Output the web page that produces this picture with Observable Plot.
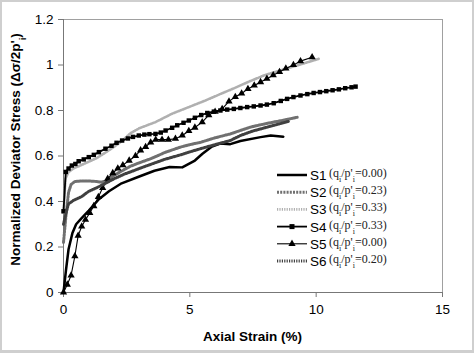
<!DOCTYPE html>
<html><head><meta charset="utf-8">
<script src="https://cdn.jsdelivr.net/npm/d3@7"></script>
<script src="https://cdn.jsdelivr.net/npm/@observablehq/plot@0.6"></script>
<style>
body{margin:0;background:#fff;}
#wrap{position:relative;width:474px;height:353px;overflow:hidden;background:#fff;}
#border{position:absolute;left:0;top:0;width:474px;height:353px;box-sizing:border-box;border:2px solid #cfcfcf;border-bottom-width:3px;pointer-events:none;}
#legend{position:absolute;left:270px;top:162px;}
</style></head><body><div id="wrap"></div>
<script>
// ---- data ----
const seriesNames = ["S1","S2","S3","S4","S5","S6"];
const ratioLabels = ["0.00","0.23","0.33","0.33","0.00","0.20"];
const xTicks = [0,5,10,15];
const yTicks = [0,0.2,0.4,0.6,0.8,1,1.2];
const xTitle = "Axial Strain (%)";

const S1 = [[0,0],[0.1,0.1],[0.2,0.19],[0.35,0.26],[0.5,0.3],[0.7,0.325],[1.0,0.36],[1.4,0.41],[1.8,0.445],[2.3,0.48],[3.0,0.51],[3.6,0.535],[4.2,0.552],[4.7,0.55],[5.2,0.58],[5.5,0.61],[5.85,0.64],[6.2,0.655],[6.6,0.652],[7.0,0.666],[7.8,0.683],[8.2,0.69],[8.7,0.685]];
const S2 = [[0,0.22],[0.1,0.34],[0.2,0.44],[0.3,0.475],[0.45,0.488],[0.7,0.49],[1.0,0.49],[1.3,0.488],[1.5,0.485],[1.7,0.49],[2.0,0.515],[2.4,0.54],[2.65,0.555],[3.0,0.57],[3.5,0.59],[4.0,0.615],[4.63,0.639],[5.0,0.65],[5.42,0.66],[6.0,0.68],[6.6,0.697],[7.0,0.712],[7.4,0.727],[8.0,0.742],[8.6,0.755],[9.25,0.77]];
const S3 = [[0,0.35],[0.08,0.5],[0.2,0.53],[0.4,0.545],[0.7,0.56],[1.0,0.575],[1.3,0.59],[1.66,0.615],[2.0,0.64],[2.3,0.665],[2.65,0.7],[3.0,0.722],[3.64,0.749],[4.3,0.786],[4.96,0.815],[5.62,0.844],[6.2,0.872],[6.8,0.9],[7.3,0.925],[7.93,0.954],[8.6,0.977],[9.25,0.998],[10.1,1.027]];
const S4 = [[0,0.357],[0.09,0.53],[0.2,0.545],[0.33,0.558],[0.47,0.565],[0.6,0.577],[0.8,0.585],[1.0,0.595],[1.2,0.605],[1.4,0.617],[1.66,0.632],[1.9,0.645],[2.1,0.658],[2.32,0.668],[2.55,0.677],[2.75,0.684],[2.98,0.69],[3.2,0.694],[3.4,0.696],[3.64,0.697],[3.85,0.703],[4.04,0.712],[4.3,0.724],[4.5,0.735],[4.75,0.746],[4.96,0.756],[5.2,0.768],[5.45,0.78],[5.69,0.789],[5.95,0.795],[6.21,0.8],[6.48,0.804],[6.74,0.807],[7.0,0.811],[7.27,0.815],[7.53,0.818],[7.8,0.822],[8.05,0.826],[8.32,0.832],[8.6,0.842],[8.85,0.851],[9.1,0.859],[9.38,0.866],[9.65,0.872],[9.9,0.877],[10.15,0.881],[10.4,0.885],[10.65,0.889],[10.9,0.893],[11.15,0.898],[11.4,0.902],[11.56,0.905]];
const S5 = [[0,0],[0.15,0.035],[0.3,0.075],[0.45,0.16],[0.58,0.25],[0.72,0.29],[0.87,0.32],[1.04,0.35],[1.2,0.38],[1.38,0.42],[1.55,0.46],[1.75,0.5],[1.95,0.525],[2.15,0.545],[2.35,0.56],[2.6,0.58],[2.85,0.6],[3.05,0.625],[3.25,0.64],[3.45,0.66],[3.65,0.672],[3.9,0.672],[4.15,0.672],[4.43,0.676],[4.7,0.69],[4.96,0.71],[5.2,0.725],[5.49,0.749],[5.75,0.78],[6.0,0.795],[6.28,0.807],[6.55,0.84],[6.8,0.86],[7.05,0.875],[7.3,0.895],[7.55,0.91],[7.8,0.925],[8.05,0.94],[8.3,0.955],[8.55,0.97],[8.8,0.985],[9.1,1.0],[9.38,1.017],[9.84,1.034]];
const S6 = [[0,0.3],[0.1,0.35],[0.2,0.39],[0.4,0.405],[0.7,0.42],[1.0,0.445],[1.3,0.46],[1.58,0.475],[2.0,0.5],[2.4,0.52],[2.65,0.53],[3.0,0.545],[3.5,0.565],[4.0,0.585],[4.63,0.605],[5.0,0.618],[5.42,0.632],[6.0,0.65],[6.6,0.668],[7.0,0.69],[7.5,0.71],[8.0,0.725],[8.5,0.74],[8.9,0.752]];

const seriesData = [S1,S2,S3,S4,S5,S6];
const styles = [
  {stroke:"#000", strokeWidth:2.5},
  {stroke:"#707070", strokeWidth:3, strokeDasharray:"2,1.2"},
  {stroke:"#b0b0b0", strokeWidth:2.6, strokeDasharray:"1.2,1.2"},
  {stroke:"#000", strokeWidth:1.8, symbol:"square", r:2.5},
  {stroke:"#000", strokeWidth:1.1, symbol:"triangle", r:2.7},
  {stroke:"#404040", strokeWidth:3, strokeDasharray:"1.2,1.2"}
];

const marks = [
  Plot.frame({stroke:"#a0a0a0"}),
  Plot.ruleX([0],{stroke:"#777"}),
  Plot.ruleY([0],{stroke:"#777"}),
  Plot.axisX({ticks:xTicks, tickSize:5, tickPadding:7, stroke:"#777", fill:"#000", label:null, tickFormat:d=>String(d)}),
  Plot.axisY({ticks:yTicks, tickSize:5, tickPadding:5, stroke:"#777", fill:"#000", label:null, tickFormat:d=>String(d)})
];
seriesData.forEach((data,i)=>{
  const s = styles[i];
  marks.push(Plot.line(data,{x:d=>d[0], y:d=>d[1], stroke:s.stroke, strokeWidth:s.strokeWidth, strokeDasharray:s.strokeDasharray, curve:"linear"}));
  if (s.symbol) marks.push(Plot.dot(data,{x:d=>d[0], y:d=>d[1], symbol:s.symbol, r:s.r, fill:"#000", stroke:"none"}));
});

const chart = Plot.plot({
  width:474, height:353,
  marginLeft:63, marginRight:32, marginTop:19, marginBottom:61,
  x:{domain:[0,15]}, y:{domain:[0,1.2]},
  style:{fontFamily:"'Liberation Sans', Arial, sans-serif", fontSize:"13.5px", color:"#000", background:"#fff"},
  marks
});
const wrap = document.getElementById("wrap");
wrap.appendChild(chart);

// axis titles
const svg = d3.select(chart);
svg.append("text").attr("x",(63+474-32)/2).attr("y",341).attr("text-anchor","middle")
  .attr("font-family","'Liberation Sans', Arial, sans-serif").attr("font-weight","bold").attr("font-size","13.5px")
  .text(xTitle);
const yt = svg.append("text").attr("transform",`translate(20,${(19+292)/2 - 6}) rotate(-90)`).attr("text-anchor","middle")
  .attr("font-family","'Liberation Sans', Arial, sans-serif").attr("font-weight","bold").attr("font-size","13.5px");
yt.append("tspan").text("Normalized Deviator Stress (\u0394\u03c3/2p'");
yt.append("tspan").attr("baseline-shift","sub").attr("font-size","9.5px").text("i");
yt.append("tspan").text(")");

// legend
const lg = d3.create("svg").attr("id","legend").attr("width",200).attr("height",120);
seriesNames.forEach((name,i)=>{
  const s = styles[i];
  const y = 13 + i*17.2;
  lg.append("line").attr("x1",7).attr("x2",37).attr("y1",y).attr("y2",y)
    .attr("stroke",s.stroke).attr("stroke-width",s.strokeWidth).attr("stroke-dasharray",s.strokeDasharray||null);
  if (s.symbol==="square") lg.append("rect").attr("x",22-2.5).attr("y",y-2.5).attr("width",5).attr("height",5).attr("fill","#000");
  if (s.symbol==="triangle") lg.append("path").attr("d",d3.symbol(d3.symbolTriangle, Math.PI*2.7*2.7)()).attr("transform",`translate(22,${y})`).attr("fill","#000");
  lg.append("text").attr("x",40).attr("y",y+5).attr("font-family","'Liberation Sans', Arial, sans-serif").attr("font-size","13.5px").text(name);
  const t = lg.append("text").attr("x",59).attr("y",y+2).attr("font-family","'Liberation Serif','Times New Roman',serif").attr("font-size","12px").attr("fill","#222");
  t.append("tspan").text("(q");
  t.append("tspan").attr("baseline-shift","sub").attr("font-size","8px").text("i");
  t.append("tspan").text("/p'");
  t.append("tspan").attr("baseline-shift","sub").attr("font-size","8px").text("i");
  t.append("tspan").text("=" + ratioLabels[i] + ")");
});
wrap.appendChild(lg.node());
const b = document.createElement("div"); b.id="border"; wrap.appendChild(b);
</script></body></html>
